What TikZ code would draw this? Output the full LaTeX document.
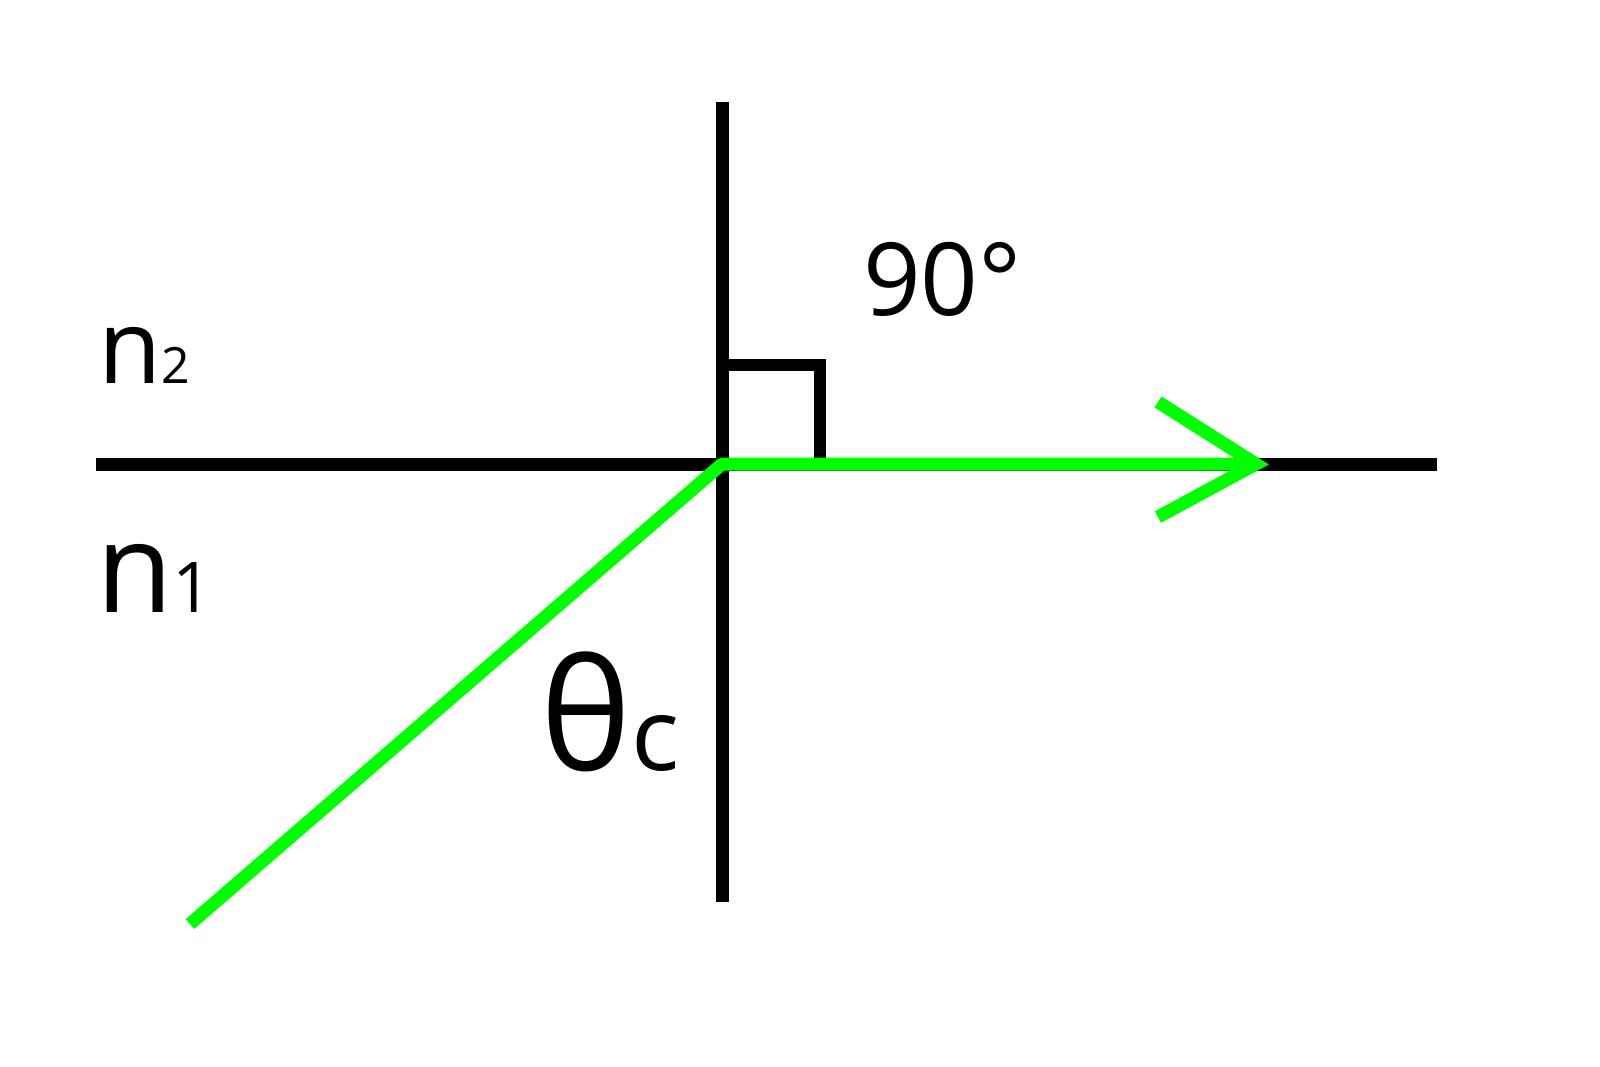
\documentclass[tikz,border=0pt]{standalone}
\usepackage{fontspec}
\setmainfont{Open Sans}
\usetikzlibrary{calc}
\definecolor{ray}{RGB}{0,255,0}

\begin{document}
\begin{tikzpicture}[x=1pt,y=-1pt,
    axis/.style={draw=black,line width=13pt,line cap=butt},
    beam/.style={draw=ray,line width=13pt,line cap=butt},
    lbl/.style={inner sep=0pt,anchor=base west}]
  \useasboundingbox (0,0) rectangle (1600,1067);
  % interface and normal
  \coordinate (O) at (722,464);
  \coordinate (L) at (96,464);
  \coordinate (R) at (1437,464);
  \coordinate (T) at (722,102);
  \coordinate (B) at (722,902);
  \draw[axis] (L) -- (R);
  \draw[axis] (T) -- (B);
  % right angle mark
  \coordinate (sqA) at (722,365);
  \coordinate (sqB) at (820,365);
  \coordinate (sqC) at (820,458);
  \draw[line width=12pt,line join=miter] (sqA) -- (sqB) -- (sqC);
  % ray
  \coordinate (S) at (190,924);
  \coordinate (tip) at (1256,464);
  \coordinate (armA) at (1158,402);
  \coordinate (armB) at (1158,517);
  \draw[beam,line join=bevel] (S) -- (O) -- (tip);
  \draw[beam,line join=miter] (armA) -- (tip) -- (armB);
  % labels
  \node[lbl] (n2) at (98,383) {\fontsize{103}{103}\selectfont n\fontsize{50}{50}\selectfont 2};
  \node[lbl] (n1) at (96,612) {\fontsize{125}{125}\selectfont n\fontsize{70}{70}\selectfont 1};
  \node[lbl] (ang) at (863,315) {\fontsize{101}{101}\selectfont 90°};
  \node[lbl] (thc) at (540,770) {\fontsize{154}{154}\selectfont θ\fontsize{101}{101}\selectfont c};
\end{tikzpicture}
\end{document}
